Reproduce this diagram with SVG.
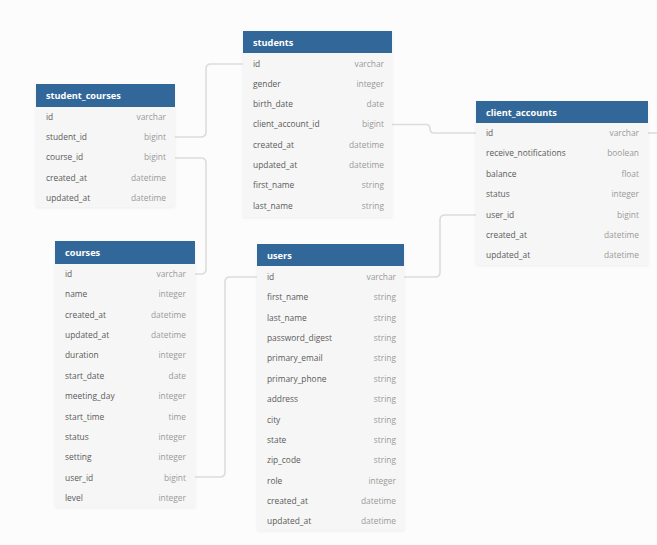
<svg xmlns="http://www.w3.org/2000/svg" width="657" height="545" viewBox="0 0 657 545">
<defs>
<filter id="sh" x="-10%" y="-10%" width="120%" height="120%">
<feDropShadow dx="0" dy="1" stdDeviation="1.5" flood-color="#000" flood-opacity="0.06"/>
</filter>
<style>
.body{fill:#f6f6f6;}
.hdr{fill:#326899;}
.ht{font-family:"Open Sans","Liberation Sans",sans-serif;font-size:9.2px;font-weight:bold;fill:#ffffff;}
.fn{font-family:"Open Sans","Liberation Sans",sans-serif;font-size:8.4px;fill:#5a5a5a;}
.ft{font-family:"Open Sans","Liberation Sans",sans-serif;font-size:8.4px;fill:#9a9a9a;text-anchor:end;}
.conn path{fill:none;stroke:#dcdcdc;stroke-width:1.6;}
</style>
</defs>
<rect width="657" height="545" fill="#fcfcfc"/>

<g class="conn" id="connectors">
<path d="M175,137 H201 Q206,137 206,132 V69 Q206,64 211,64 H243"/>
<path d="M175,158 H201 Q206,158 206,163 V269 Q206,274 201,274 H195"/>
<path d="M195,477 H220 Q225,477 225,472 V282 Q225,277 230,277 H257"/>
<path d="M392,124.5 H426 Q430,124.5 430,128.75 Q430,133 434,133 H476"/>
<path d="M404,277 H435 Q440,277 440,272 V220 Q440,215 445,215 H476"/>
<path d="M648,133 H657"/>
</g>

<g id="student_courses" transform="translate(36,84)">
<rect class="body" x="0" y="0" width="139" height="123" filter="url(#sh)"/>
<rect class="hdr" x="0" y="0" width="139" height="23"/>
<text class="ht" x="10" y="15">student_courses</text>
<text class="fn" x="10" y="35.5">id</text><text class="ft" x="130" y="35.5">varchar</text>
<text class="fn" x="10" y="56">student_id</text><text class="ft" x="130" y="56">bigint</text>
<text class="fn" x="10" y="76.3">course_id</text><text class="ft" x="130" y="76.3">bigint</text>
<text class="fn" x="10" y="96.7">created_at</text><text class="ft" x="130" y="96.7">datetime</text>
<text class="fn" x="10" y="117.1">updated_at</text><text class="ft" x="130" y="117.1">datetime</text>
</g>

<g id="students" transform="translate(243,31)">
<rect class="body" x="0" y="0" width="149" height="186" filter="url(#sh)"/>
<rect class="hdr" x="0" y="0" width="149" height="22"/>
<text class="ht" x="10" y="15">students</text>
<text class="fn" x="10" y="35.5">id</text><text class="ft" x="141" y="35.5">varchar</text>
<text class="fn" x="10" y="55.8">gender</text><text class="ft" x="141" y="55.8">integer</text>
<text class="fn" x="10" y="76.1">birth_date</text><text class="ft" x="141" y="76.1">date</text>
<text class="fn" x="10" y="96.4">client_account_id</text><text class="ft" x="141" y="96.4">bigint</text>
<text class="fn" x="10" y="116.7">created_at</text><text class="ft" x="141" y="116.7">datetime</text>
<text class="fn" x="10" y="137">updated_at</text><text class="ft" x="141" y="137">datetime</text>
<text class="fn" x="10" y="157.3">first_name</text><text class="ft" x="141" y="157.3">string</text>
<text class="fn" x="10" y="177.6">last_name</text><text class="ft" x="141" y="177.6">string</text>
</g>

<g id="client_accounts" transform="translate(476,101)">
<rect class="body" x="0" y="0" width="172" height="164" filter="url(#sh)"/>
<rect class="hdr" x="0" y="0" width="172" height="22"/>
<text class="ht" x="10" y="15">client_accounts</text>
<text class="fn" x="10" y="35">id</text><text class="ft" x="163" y="35">varchar</text>
<text class="fn" x="10" y="55.4">receive_notifications</text><text class="ft" x="163" y="55.4">boolean</text>
<text class="fn" x="10" y="75.8">balance</text><text class="ft" x="163" y="75.8">float</text>
<text class="fn" x="10" y="96.2">status</text><text class="ft" x="163" y="96.2">integer</text>
<text class="fn" x="10" y="116.6">user_id</text><text class="ft" x="163" y="116.6">bigint</text>
<text class="fn" x="10" y="137">created_at</text><text class="ft" x="163" y="137">datetime</text>
<text class="fn" x="10" y="157.4">updated_at</text><text class="ft" x="163" y="157.4">datetime</text>
</g>

<g id="courses" transform="translate(55,241)">
<rect class="body" x="0" y="0" width="140" height="266" filter="url(#sh)"/>
<rect class="hdr" x="0" y="0" width="140" height="23"/>
<text class="ht" x="10" y="15">courses</text>
<text class="fn" x="10" y="36">id</text><text class="ft" x="131" y="36">varchar</text>
<text class="fn" x="10" y="56.4">name</text><text class="ft" x="131" y="56.4">integer</text>
<text class="fn" x="10" y="76.7">created_at</text><text class="ft" x="131" y="76.7">datetime</text>
<text class="fn" x="10" y="97.1">updated_at</text><text class="ft" x="131" y="97.1">datetime</text>
<text class="fn" x="10" y="117.4">duration</text><text class="ft" x="131" y="117.4">integer</text>
<text class="fn" x="10" y="137.8">start_date</text><text class="ft" x="131" y="137.8">date</text>
<text class="fn" x="10" y="158.1">meeting_day</text><text class="ft" x="131" y="158.1">integer</text>
<text class="fn" x="10" y="178.5">start_time</text><text class="ft" x="131" y="178.5">time</text>
<text class="fn" x="10" y="198.8">status</text><text class="ft" x="131" y="198.8">integer</text>
<text class="fn" x="10" y="219.2">setting</text><text class="ft" x="131" y="219.2">integer</text>
<text class="fn" x="10" y="239.5">user_id</text><text class="ft" x="131" y="239.5">bigint</text>
<text class="fn" x="10" y="259.9">level</text><text class="ft" x="131" y="259.9">integer</text>
</g>

<g id="users" transform="translate(257,244)">
<rect class="body" x="0" y="0" width="147" height="286" filter="url(#sh)"/>
<rect class="hdr" x="0" y="0" width="147" height="22"/>
<text class="ht" x="10" y="15">users</text>
<text class="fn" x="10" y="36">id</text><text class="ft" x="139" y="36">varchar</text>
<text class="fn" x="10" y="56.4">first_name</text><text class="ft" x="139" y="56.4">string</text>
<text class="fn" x="10" y="76.7">last_name</text><text class="ft" x="139" y="76.7">string</text>
<text class="fn" x="10" y="97.1">password_digest</text><text class="ft" x="139" y="97.1">string</text>
<text class="fn" x="10" y="117.4">primary_email</text><text class="ft" x="139" y="117.4">string</text>
<text class="fn" x="10" y="137.8">primary_phone</text><text class="ft" x="139" y="137.8">string</text>
<text class="fn" x="10" y="158.1">address</text><text class="ft" x="139" y="158.1">string</text>
<text class="fn" x="10" y="178.5">city</text><text class="ft" x="139" y="178.5">string</text>
<text class="fn" x="10" y="198.8">state</text><text class="ft" x="139" y="198.8">string</text>
<text class="fn" x="10" y="219.2">zip_code</text><text class="ft" x="139" y="219.2">string</text>
<text class="fn" x="10" y="239.5">role</text><text class="ft" x="139" y="239.5">integer</text>
<text class="fn" x="10" y="259.9">created_at</text><text class="ft" x="139" y="259.9">datetime</text>
<text class="fn" x="10" y="280.2">updated_at</text><text class="ft" x="139" y="280.2">datetime</text>
</g>
</svg>
